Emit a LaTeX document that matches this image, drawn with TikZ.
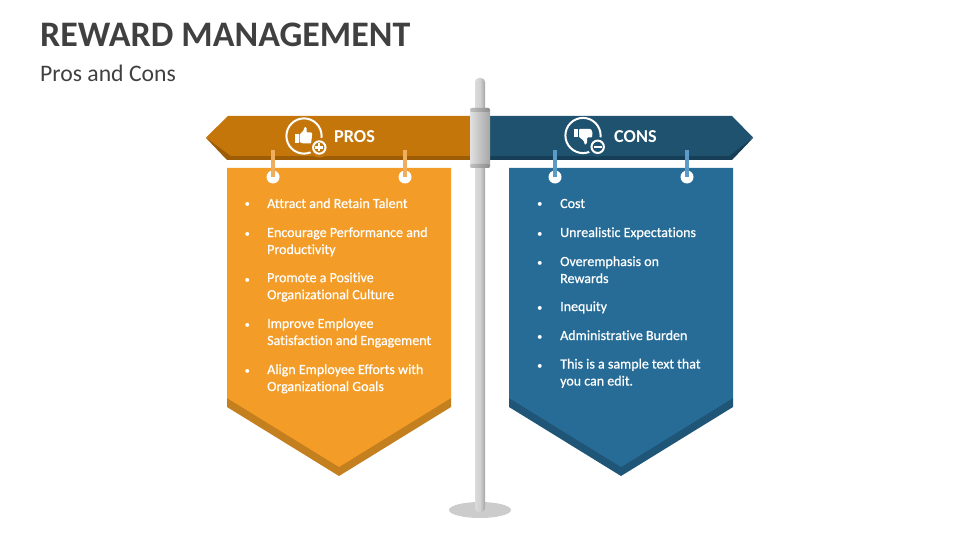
\documentclass[tikz,border=0pt]{standalone}
\usepackage{fontspec}
\setmainfont[Ligatures=NoCommon]{Carlito}
\newfontfamily\itemfont[FakeBold=0.6,Ligatures=NoCommon]{Carlito}
\usetikzlibrary{calc}
\definecolor{orMain}{HTML}{C4760A}
\definecolor{orDark}{HTML}{9C5D06}
\definecolor{orPanel}{HTML}{F39C27}
\definecolor{orShade}{HTML}{C47F1E}
\definecolor{orStrip}{HTML}{EFAE5E}
\definecolor{blMain}{HTML}{1F526F}
\definecolor{blDark}{HTML}{163F57}
\definecolor{blPanel}{HTML}{276C96}
\definecolor{blShade}{HTML}{1F5577}
\definecolor{blStrip}{HTML}{5B9BC6}
\definecolor{greyBase}{HTML}{CCCCCC}
\definecolor{titleGrey}{HTML}{404040}
\tikzset{
  x=1pt,y=-1pt,
  item/.style={anchor=base west,text=white,font=\itemfont\fontsize{14}{17}\selectfont,inner sep=0pt,align=left},
  bul/.style={anchor=base west,text=white,font=\fontsize{11}{12}\selectfont,inner sep=0pt},
  head/.style={text=white,font=\fontsize{18.2}{20}\selectfont\bfseries,inner sep=0pt,anchor=base west},
  iconring/.style={draw=white,line width=2pt,fill=none}
}
\begin{document}
\begin{tikzpicture}
\useasboundingbox (0,0) rectangle (960,540);
% title
\node[anchor=base west,inner sep=0pt,text=titleGrey,font=\fontsize{35.9}{36}\selectfont\bfseries] (title) at (40,46.5) {REWARD MANAGEMENT};
\node[anchor=base west,inner sep=0pt,text=titleGrey,font=\fontsize{23.7}{26}\selectfont] (sub) at (40,81.7) {Pros and Cons};
% pole base
\fill[greyBase] (480,510) ellipse [x radius=31, y radius=8];
% left banner
\fill[orDark] (206,138) -- (227,160) -- (472,160) -- (472,150) -- (230,150) -- cycle;
\fill[orMain] (206,137.5) -- (228,116) -- (472,116) -- (472,156) -- (231,156) -- cycle;
% right banner
\fill[blDark] (753,138) -- (732,160) -- (488,160) -- (488,150) -- (730,150) -- cycle;
\fill[blMain] (753,137.5) -- (732,116) -- (488,116) -- (488,156) -- (729,156) -- cycle;
% pole
\shade[left color=greyBase!70!white, right color=black!35, middle color=greyBase!90!white, rounded corners=4pt] (475,78) rectangle (485,512);
\shade[left color=black!12, right color=black!35, rounded corners=2pt] (470,108) rectangle (490,168);
\shade[left color=black!25, right color=black!45, rounded corners=2pt] (470,108) rectangle (490,112);
\shade[left color=black!25, right color=black!45, rounded corners=2pt] (470,164) rectangle (490,168);
% panels
\fill[orShade] (227,398) -- (227,407) -- (339,476) -- (451,407) -- (451,398) -- cycle;
\fill[orPanel] (227,168) -- (451,168) -- (451,398) -- (339,467) -- (227,398) -- cycle;
\fill[blShade] (509,398) -- (509,407) -- (621,476) -- (733,407) -- (733,398) -- cycle;
\fill[blPanel] (509,168) -- (733,168) -- (733,398) -- (621,467) -- (509,398) -- cycle;
% holes and strips
\foreach \hx in {273,405}{
  \fill[white] (\hx,177) circle [radius=6.5];
  \fill[orStrip] (\hx-1.7,150) rectangle (\hx+2,177);
}
\foreach \hx in {555,687}{
  \fill[white] (\hx,177) circle [radius=6.5];
  \fill[blStrip] (\hx-1.7,150) rectangle (\hx+2,177);
}
% pros icon
\draw[iconring] (304,136) circle [radius=17.6];
\fill[orMain] (319.3,147.5) circle [radius=10];
\draw[white,line width=2pt,fill=orMain] (319.3,147.5) circle [radius=6.2];
\fill[white] (315.3,146.4) rectangle (323.3,148.6);
\fill[white] (318.2,143.5) rectangle (320.4,151.5);
\fill[white] (294.5,134.5) rectangle (298.5,143);
\fill[white,rounded corners=0.8pt] (299.5,134.5) -- (303.5,130.5) -- (304.5,127) -- (306.5,127.3) -- (306.5,132.5) -- (312,132.5) -- (312,136) -- (311,143.5) -- (303,143.5) -- (299.5,142) -- cycle;
% cons icon
\draw[iconring] (583,135.5) circle [radius=17.6];
\fill[blMain] (597.7,146.8) circle [radius=10];
\draw[white,line width=2pt,fill=blMain] (597.7,146.8) circle [radius=6.2];
\fill[white] (593.7,145.6) rectangle (601.7,148);
\fill[white] (574,129) rectangle (578,137.5);
\fill[white,rounded corners=0.8pt] (579,129) -- (591,129) -- (592.5,132.5) -- (592,137.5) -- (587,137.5) -- (587,143) -- (585,145) -- (583.5,140.5) -- (579,137) -- cycle;
% headings
\node[head] (pros) at (334,142.7) {PROS};
\node[head] (cons) at (614,142.7) {CONS};
% pros text
\foreach \by in {207.5,237,283,328,374}{\node[bul] at (244.5,\by) {•};}
\node[item] (p1) at (267,208) {Attract and Retain Talent};
\node[item] (p2) at (267,254) {Encourage Performance and\\Productivity};
\node[item] (p3) at (267,299.2) {Promote a Positive\\Organizational Culture};
\node[item] (p4) at (267,345) {Improve Employee\\Satisfaction and Engagement};
\node[item] (p5) at (267,391) {Align Employee Efforts with\\Organizational Goals};
% cons text
\foreach \by in {207.5,237,266,311,340,369}{\node[bul] at (537,\by) {•};}
\node[item] (c1) at (560,208) {Cost};
\node[item] (c2) at (560,237) {Unrealistic Expectations};
\node[item] (c3) at (560,283) {Overemphasis on\\Rewards};
\node[item] (c4) at (560,311) {Inequity};
\node[item] (c5) at (560,340) {Administrative Burden};
\node[item] (c6) at (560,385.5) {This is a sample text that\\you can edit.};
\end{tikzpicture}
\end{document}
